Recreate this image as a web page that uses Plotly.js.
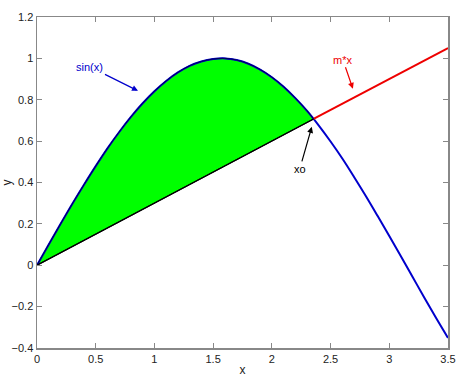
<!DOCTYPE html>
<html><head><meta charset="utf-8">
<script src="https://cdn.plot.ly/plotly-3.0.1.min.js"></script>
<style>html,body{margin:0;padding:0;background:#fff}#plot{width:474px;height:379px}</style>
</head><body><div id="plot"></div>
<script>
// sin(x)
const xs = [0,0.1,0.2,0.3,0.4,0.5,0.6,0.7,0.8,0.9,1.0,1.1,1.2,1.3,1.4,1.5,1.6,1.7,1.8,1.9,2.0,2.1,2.2,2.3,2.4,2.5,2.6,2.7,2.8,2.9,3.0,3.1,3.2,3.3,3.4,3.5];
const sinY = [0,0.100,0.199,0.296,0.389,0.479,0.565,0.644,0.717,0.783,0.841,0.891,0.932,0.964,0.985,0.997,1.000,0.992,0.974,0.946,0.909,0.863,0.808,0.746,0.675,0.598,0.516,0.427,0.335,0.239,0.141,0.042,-0.058,-0.158,-0.256,-0.351];
// filled region boundary (sin part up to xo)
const fillX = [0,0.1,0.2,0.3,0.4,0.5,0.6,0.7,0.8,0.9,1.0,1.1,1.2,1.3,1.4,1.5,1.6,1.7,1.8,1.9,2.0,2.1,2.2,2.3,2.355];
const fillY = [0,0.100,0.199,0.296,0.389,0.479,0.565,0.644,0.717,0.783,0.841,0.891,0.932,0.964,0.985,0.997,1.000,0.992,0.974,0.946,0.909,0.863,0.808,0.746,0.707];
// m*x line: black part (0..xo) and red part (xo..3.5)
const blackX = [0, 2.355];
const blackY = [0, 0.707];
const redX = [2.355, 3.5];
const redY = [0.707, 1.05];
// annotations
const labels = ['sin(x)', 'm*x', 'xo'];
const labelColors = ['#0000cc', '#ee0000', '#000000'];
const headX = [0.86, 2.69, 2.34];
const headY = [0.843, 0.853, 0.669];

const font = {family: 'Liberation Sans, Arial, sans-serif', size: 11, color: '#222'};
const traces = [
  {x: fillX, y: fillY, mode: 'lines', line: {color: '#0000aa', width: 1.2, shape: 'spline'}, hoverinfo: 'skip'},
  {x: blackX, y: blackY, mode: 'lines', fill: 'tonexty', fillcolor: '#00ff00', line: {color: '#000000', width: 1.2}, hoverinfo: 'skip'},
  {x: xs, y: sinY, mode: 'lines', line: {color: '#0000cc', width: 2, shape: 'spline'}},
  {x: redX, y: redY, mode: 'lines', line: {color: '#ee0000', width: 2}},
  {x: fillX, y: fillY, mode: 'lines', line: {color: '#000055', width: 1, shape: 'spline'}, hoverinfo: 'skip'},
  {x: blackX, y: blackY, mode: 'lines', line: {color: '#000000', width: 1.2}, hoverinfo: 'skip'}
];
const axCommon = {showgrid: false, zeroline: false, showline: true, linecolor: '#888', linewidth: 1.5, mirror: 'ticks', ticks: 'inside', ticklen: 5, tickcolor: '#888', tickfont: font};
const offs = [[-48,-24],[-10,-29],[-12,42]];
const layout = {
  width: 474, height: 379,
  margin: {l: 37, r: 26, t: 17, b: 31},
  paper_bgcolor: '#fff', plot_bgcolor: '#fff',
  showlegend: false,
  font: font,
  xaxis: Object.assign({}, axCommon, {range: [0, 3.5], dtick: 0.5, tick0: 0, title: {text: 'x', font: {family: font.family, size: 12, color: '#222'}, standoff: 2}}),
  yaxis: Object.assign({}, axCommon, {range: [-0.4, 1.2], dtick: 0.2, tick0: 0, title: {text: 'y', font: {family: font.family, size: 12, color: '#222'}, standoff: 4}}),
  annotations: labels.map((t, i) => ({
    x: headX[i], y: headY[i], xref: 'x', yref: 'y', text: t,
    showarrow: true, arrowhead: 2, arrowsize: 1, arrowwidth: 1.2, arrowcolor: labelColors[i],
    ax: offs[i][0], ay: offs[i][1], standoff: 0,
    font: {family: font.family, size: 11, color: labelColors[i]}
  }))
};
Plotly.newPlot('plot', traces, layout, {staticPlot: true});
</script></body></html>
